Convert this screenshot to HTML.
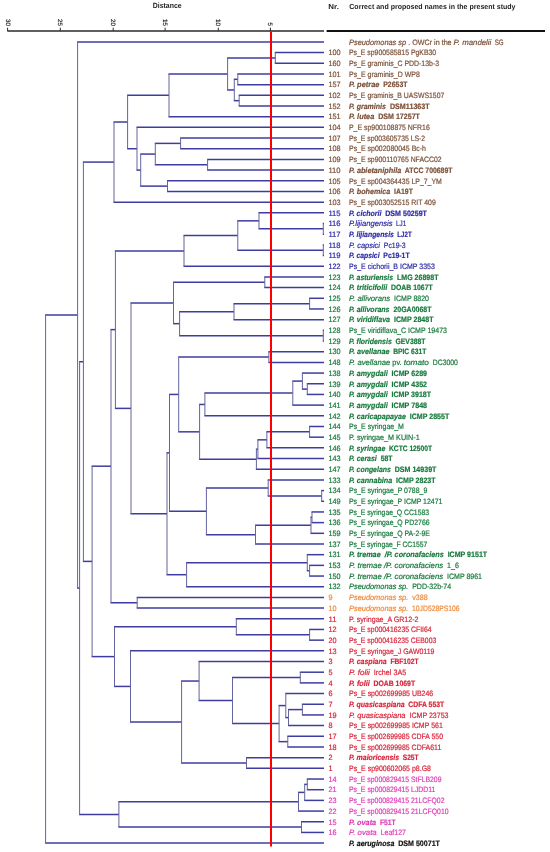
<!DOCTYPE html><html><head><meta charset="utf-8"><style>html,body{margin:0;padding:0;background:#fff;}svg{display:block}text{font-family:"Liberation Sans",Arial,sans-serif;white-space:pre;text-rendering:geometricPrecision}</style></head><body>
<svg width="550" height="852" viewBox="0 0 550 852">
<text x="167.2" y="8.3" font-size="7.6" font-weight="bold" fill="#222" text-anchor="middle" textLength="28.8" lengthAdjust="spacingAndGlyphs">Distance</text>
<line x1="7.3" y1="31" x2="324" y2="31" stroke="#2a2a2a" stroke-width="1.5"/>
<line x1="7.6" y1="27.7" x2="7.6" y2="31" stroke="#2a2a2a" stroke-width="1"/>
<text transform="translate(5.50,26.0) rotate(90)" font-size="6.3" fill="#1a1a1a" stroke="#1a1a1a" stroke-width="0.15" text-anchor="end" textLength="7.00" lengthAdjust="spacingAndGlyphs">30</text>
<line x1="60.3" y1="27.7" x2="60.3" y2="31" stroke="#2a2a2a" stroke-width="1"/>
<text transform="translate(58.20,26.0) rotate(90)" font-size="6.3" fill="#1a1a1a" stroke="#1a1a1a" stroke-width="0.15" text-anchor="end" textLength="7.00" lengthAdjust="spacingAndGlyphs">25</text>
<line x1="113.2" y1="27.7" x2="113.2" y2="31" stroke="#2a2a2a" stroke-width="1"/>
<text transform="translate(111.10,26.0) rotate(90)" font-size="6.3" fill="#1a1a1a" stroke="#1a1a1a" stroke-width="0.15" text-anchor="end" textLength="7.00" lengthAdjust="spacingAndGlyphs">20</text>
<line x1="165.1" y1="27.7" x2="165.1" y2="31" stroke="#2a2a2a" stroke-width="1"/>
<text transform="translate(163.00,26.0) rotate(90)" font-size="6.3" fill="#1a1a1a" stroke="#1a1a1a" stroke-width="0.15" text-anchor="end" textLength="7.00" lengthAdjust="spacingAndGlyphs">15</text>
<line x1="218.3" y1="27.7" x2="218.3" y2="31" stroke="#2a2a2a" stroke-width="1"/>
<text transform="translate(216.20,26.0) rotate(90)" font-size="6.3" fill="#1a1a1a" stroke="#1a1a1a" stroke-width="0.15" text-anchor="end" textLength="7.00" lengthAdjust="spacingAndGlyphs">10</text>
<line x1="270.4" y1="27.7" x2="270.4" y2="31" stroke="#2a2a2a" stroke-width="1"/>
<text transform="translate(268.30,26.0) rotate(90)" font-size="6.3" fill="#1a1a1a" stroke="#1a1a1a" stroke-width="0.15" text-anchor="end" textLength="3.50" lengthAdjust="spacingAndGlyphs">5</text>
<line x1="326.6" y1="31" x2="545" y2="31" stroke="#111" stroke-width="2"/>
<text x="328.3" y="8.9" font-size="7.3" font-weight="bold" fill="#222" textLength="10.53" lengthAdjust="spacingAndGlyphs">Nr.</text>
<text x="349.3" y="8.9" font-size="7.3" font-weight="bold" fill="#222" textLength="166.2" lengthAdjust="spacingAndGlyphs">Correct and proposed names in the present study</text>
<g stroke="#3e3ca0" fill="none">
<line x1="274.80" y1="52.58" x2="324.00" y2="52.58" stroke-width="1.5"/>
<line x1="274.80" y1="63.27" x2="324.00" y2="63.27" stroke-width="1.5"/>
<line x1="237.30" y1="73.95" x2="324.00" y2="73.95" stroke-width="1.5"/>
<line x1="237.30" y1="84.63" x2="324.00" y2="84.63" stroke-width="1.5"/>
<line x1="238.70" y1="95.31" x2="324.00" y2="95.31" stroke-width="1.5"/>
<line x1="238.70" y1="106.00" x2="324.00" y2="106.00" stroke-width="1.5"/>
<line x1="233.80" y1="79.29" x2="237.80" y2="79.29" stroke-width="1.5"/>
<line x1="233.80" y1="100.66" x2="239.20" y2="100.66" stroke-width="1.5"/>
<line x1="227.10" y1="57.92" x2="275.30" y2="57.92" stroke-width="1.5"/>
<line x1="227.10" y1="89.97" x2="234.30" y2="89.97" stroke-width="1.5"/>
<line x1="168.50" y1="73.95" x2="227.60" y2="73.95" stroke-width="1.5"/>
<line x1="168.50" y1="116.68" x2="324.00" y2="116.68" stroke-width="1.5"/>
<line x1="180.10" y1="138.05" x2="324.00" y2="138.05" stroke-width="1.5"/>
<line x1="180.10" y1="148.73" x2="324.00" y2="148.73" stroke-width="1.5"/>
<line x1="207.10" y1="159.41" x2="324.00" y2="159.41" stroke-width="1.5"/>
<line x1="207.10" y1="170.10" x2="324.00" y2="170.10" stroke-width="1.5"/>
<line x1="154.80" y1="143.39" x2="180.60" y2="143.39" stroke-width="1.5"/>
<line x1="154.80" y1="164.75" x2="207.60" y2="164.75" stroke-width="1.5"/>
<line x1="167.00" y1="180.78" x2="324.00" y2="180.78" stroke-width="1.5"/>
<line x1="167.00" y1="191.46" x2="324.00" y2="191.46" stroke-width="1.5"/>
<line x1="140.20" y1="154.07" x2="155.30" y2="154.07" stroke-width="1.5"/>
<line x1="140.20" y1="186.12" x2="167.50" y2="186.12" stroke-width="1.5"/>
<line x1="136.50" y1="127.36" x2="324.00" y2="127.36" stroke-width="1.5"/>
<line x1="136.50" y1="170.10" x2="140.70" y2="170.10" stroke-width="1.5"/>
<line x1="127.10" y1="95.31" x2="169.00" y2="95.31" stroke-width="1.5"/>
<line x1="127.10" y1="148.73" x2="137.00" y2="148.73" stroke-width="1.5"/>
<line x1="113.50" y1="122.02" x2="127.60" y2="122.02" stroke-width="1.5"/>
<line x1="113.50" y1="202.15" x2="324.00" y2="202.15" stroke-width="1.5"/>
<line x1="322.80" y1="223.51" x2="324.00" y2="223.51" stroke-width="1.5"/>
<line x1="322.80" y1="234.19" x2="324.00" y2="234.19" stroke-width="1.5"/>
<line x1="258.50" y1="212.83" x2="324.00" y2="212.83" stroke-width="1.5"/>
<line x1="258.50" y1="228.85" x2="323.30" y2="228.85" stroke-width="1.5"/>
<line x1="322.80" y1="244.88" x2="324.00" y2="244.88" stroke-width="1.5"/>
<line x1="322.80" y1="255.56" x2="324.00" y2="255.56" stroke-width="1.5"/>
<line x1="237.30" y1="220.84" x2="259.00" y2="220.84" stroke-width="1.5"/>
<line x1="237.30" y1="250.22" x2="323.30" y2="250.22" stroke-width="1.5"/>
<line x1="183.50" y1="235.53" x2="237.80" y2="235.53" stroke-width="1.5"/>
<line x1="183.50" y1="266.24" x2="324.00" y2="266.24" stroke-width="1.5"/>
<line x1="264.30" y1="276.93" x2="324.00" y2="276.93" stroke-width="1.5"/>
<line x1="264.30" y1="287.61" x2="324.00" y2="287.61" stroke-width="1.5"/>
<line x1="309.10" y1="298.29" x2="324.00" y2="298.29" stroke-width="1.5"/>
<line x1="309.10" y1="308.97" x2="324.00" y2="308.97" stroke-width="1.5"/>
<line x1="233.50" y1="303.63" x2="309.60" y2="303.63" stroke-width="1.5"/>
<line x1="233.50" y1="319.66" x2="324.00" y2="319.66" stroke-width="1.5"/>
<line x1="322.80" y1="330.34" x2="324.00" y2="330.34" stroke-width="1.5"/>
<line x1="322.80" y1="341.02" x2="324.00" y2="341.02" stroke-width="1.5"/>
<line x1="179.10" y1="311.65" x2="234.00" y2="311.65" stroke-width="1.5"/>
<line x1="179.10" y1="335.68" x2="323.30" y2="335.68" stroke-width="1.5"/>
<line x1="173.00" y1="282.27" x2="264.80" y2="282.27" stroke-width="1.5"/>
<line x1="173.00" y1="323.66" x2="179.60" y2="323.66" stroke-width="1.5"/>
<line x1="268.40" y1="351.71" x2="324.00" y2="351.71" stroke-width="1.5"/>
<line x1="268.40" y1="362.39" x2="324.00" y2="362.39" stroke-width="1.5"/>
<line x1="306.80" y1="383.76" x2="324.00" y2="383.76" stroke-width="1.5"/>
<line x1="306.80" y1="394.44" x2="324.00" y2="394.44" stroke-width="1.5"/>
<line x1="301.90" y1="373.07" x2="324.00" y2="373.07" stroke-width="1.5"/>
<line x1="301.90" y1="389.10" x2="307.30" y2="389.10" stroke-width="1.5"/>
<line x1="292.30" y1="381.09" x2="302.40" y2="381.09" stroke-width="1.5"/>
<line x1="292.30" y1="405.12" x2="324.00" y2="405.12" stroke-width="1.5"/>
<line x1="204.40" y1="393.10" x2="292.80" y2="393.10" stroke-width="1.5"/>
<line x1="204.40" y1="415.80" x2="324.00" y2="415.80" stroke-width="1.5"/>
<line x1="309.10" y1="426.49" x2="324.00" y2="426.49" stroke-width="1.5"/>
<line x1="309.10" y1="437.17" x2="324.00" y2="437.17" stroke-width="1.5"/>
<line x1="266.40" y1="431.83" x2="309.60" y2="431.83" stroke-width="1.5"/>
<line x1="266.40" y1="447.85" x2="324.00" y2="447.85" stroke-width="1.5"/>
<line x1="257.40" y1="439.84" x2="266.90" y2="439.84" stroke-width="1.5"/>
<line x1="257.40" y1="458.54" x2="324.00" y2="458.54" stroke-width="1.5"/>
<line x1="255.90" y1="449.19" x2="257.90" y2="449.19" stroke-width="1.5"/>
<line x1="255.90" y1="469.22" x2="324.00" y2="469.22" stroke-width="1.5"/>
<line x1="199.10" y1="404.45" x2="204.90" y2="404.45" stroke-width="1.5"/>
<line x1="199.10" y1="459.20" x2="256.40" y2="459.20" stroke-width="1.5"/>
<line x1="178.20" y1="357.05" x2="268.90" y2="357.05" stroke-width="1.5"/>
<line x1="178.20" y1="431.83" x2="199.60" y2="431.83" stroke-width="1.5"/>
<line x1="321.20" y1="490.59" x2="324.00" y2="490.59" stroke-width="1.5"/>
<line x1="321.20" y1="501.27" x2="324.00" y2="501.27" stroke-width="1.5"/>
<line x1="267.70" y1="479.90" x2="324.00" y2="479.90" stroke-width="1.5"/>
<line x1="267.70" y1="495.93" x2="321.70" y2="495.93" stroke-width="1.5"/>
<line x1="311.50" y1="511.95" x2="324.00" y2="511.95" stroke-width="1.5"/>
<line x1="311.50" y1="522.63" x2="324.00" y2="522.63" stroke-width="1.5"/>
<line x1="310.50" y1="517.29" x2="312.00" y2="517.29" stroke-width="1.5"/>
<line x1="310.50" y1="533.32" x2="324.00" y2="533.32" stroke-width="1.5"/>
<line x1="255.00" y1="525.31" x2="311.00" y2="525.31" stroke-width="1.5"/>
<line x1="255.00" y1="544.00" x2="324.00" y2="544.00" stroke-width="1.5"/>
<line x1="205.90" y1="487.92" x2="268.20" y2="487.92" stroke-width="1.5"/>
<line x1="205.90" y1="534.65" x2="255.50" y2="534.65" stroke-width="1.5"/>
<line x1="169.00" y1="394.44" x2="178.70" y2="394.44" stroke-width="1.5"/>
<line x1="169.00" y1="511.28" x2="206.40" y2="511.28" stroke-width="1.5"/>
<line x1="309.10" y1="565.37" x2="324.00" y2="565.37" stroke-width="1.5"/>
<line x1="309.10" y1="576.05" x2="324.00" y2="576.05" stroke-width="1.5"/>
<line x1="306.80" y1="554.68" x2="324.00" y2="554.68" stroke-width="1.5"/>
<line x1="306.80" y1="570.71" x2="309.60" y2="570.71" stroke-width="1.5"/>
<line x1="186.10" y1="562.70" x2="307.30" y2="562.70" stroke-width="1.5"/>
<line x1="186.10" y1="586.73" x2="324.00" y2="586.73" stroke-width="1.5"/>
<line x1="166.50" y1="452.86" x2="169.50" y2="452.86" stroke-width="1.5"/>
<line x1="166.50" y1="574.71" x2="186.60" y2="574.71" stroke-width="1.5"/>
<line x1="130.50" y1="302.97" x2="173.50" y2="302.97" stroke-width="1.5"/>
<line x1="130.50" y1="513.79" x2="167.00" y2="513.79" stroke-width="1.5"/>
<line x1="114.90" y1="250.89" x2="184.00" y2="250.89" stroke-width="1.5"/>
<line x1="114.90" y1="408.38" x2="131.00" y2="408.38" stroke-width="1.5"/>
<line x1="136.70" y1="597.42" x2="324.00" y2="597.42" stroke-width="1.5"/>
<line x1="136.70" y1="608.10" x2="324.00" y2="608.10" stroke-width="1.5"/>
<line x1="110.50" y1="329.63" x2="115.40" y2="329.63" stroke-width="1.5"/>
<line x1="110.50" y1="602.76" x2="137.20" y2="602.76" stroke-width="1.5"/>
<line x1="309.10" y1="629.46" x2="324.00" y2="629.46" stroke-width="1.5"/>
<line x1="309.10" y1="640.15" x2="324.00" y2="640.15" stroke-width="1.5"/>
<line x1="235.80" y1="618.78" x2="324.00" y2="618.78" stroke-width="1.5"/>
<line x1="235.80" y1="634.81" x2="309.60" y2="634.81" stroke-width="1.5"/>
<line x1="299.80" y1="672.20" x2="324.00" y2="672.20" stroke-width="1.5"/>
<line x1="299.80" y1="682.88" x2="324.00" y2="682.88" stroke-width="1.5"/>
<line x1="301.90" y1="704.25" x2="324.00" y2="704.25" stroke-width="1.5"/>
<line x1="301.90" y1="714.93" x2="324.00" y2="714.93" stroke-width="1.5"/>
<line x1="288.00" y1="709.59" x2="302.40" y2="709.59" stroke-width="1.5"/>
<line x1="288.00" y1="725.61" x2="324.00" y2="725.61" stroke-width="1.5"/>
<line x1="285.30" y1="693.56" x2="324.00" y2="693.56" stroke-width="1.5"/>
<line x1="285.30" y1="717.60" x2="288.50" y2="717.60" stroke-width="1.5"/>
<line x1="287.30" y1="736.29" x2="324.00" y2="736.29" stroke-width="1.5"/>
<line x1="287.30" y1="746.98" x2="324.00" y2="746.98" stroke-width="1.5"/>
<line x1="278.60" y1="705.58" x2="285.80" y2="705.58" stroke-width="1.5"/>
<line x1="278.60" y1="741.64" x2="287.80" y2="741.64" stroke-width="1.5"/>
<line x1="232.00" y1="677.54" x2="300.30" y2="677.54" stroke-width="1.5"/>
<line x1="232.00" y1="723.61" x2="279.10" y2="723.61" stroke-width="1.5"/>
<line x1="198.60" y1="661.51" x2="324.00" y2="661.51" stroke-width="1.5"/>
<line x1="198.60" y1="700.57" x2="232.50" y2="700.57" stroke-width="1.5"/>
<line x1="246.00" y1="757.66" x2="324.00" y2="757.66" stroke-width="1.5"/>
<line x1="246.00" y1="768.34" x2="324.00" y2="768.34" stroke-width="1.5"/>
<line x1="181.10" y1="681.04" x2="199.10" y2="681.04" stroke-width="1.5"/>
<line x1="181.10" y1="763.00" x2="246.50" y2="763.00" stroke-width="1.5"/>
<line x1="130.00" y1="650.83" x2="324.00" y2="650.83" stroke-width="1.5"/>
<line x1="130.00" y1="722.02" x2="181.60" y2="722.02" stroke-width="1.5"/>
<line x1="114.00" y1="626.79" x2="236.30" y2="626.79" stroke-width="1.5"/>
<line x1="114.00" y1="686.43" x2="130.50" y2="686.43" stroke-width="1.5"/>
<line x1="91.60" y1="466.19" x2="111.00" y2="466.19" stroke-width="1.5"/>
<line x1="91.60" y1="656.61" x2="114.50" y2="656.61" stroke-width="1.5"/>
<line x1="82.90" y1="162.08" x2="114.00" y2="162.08" stroke-width="1.5"/>
<line x1="82.90" y1="561.40" x2="92.10" y2="561.40" stroke-width="1.5"/>
<line x1="306.80" y1="779.03" x2="324.00" y2="779.03" stroke-width="1.5"/>
<line x1="306.80" y1="789.71" x2="324.00" y2="789.71" stroke-width="1.5"/>
<line x1="304.20" y1="784.37" x2="307.30" y2="784.37" stroke-width="1.5"/>
<line x1="304.20" y1="800.39" x2="324.00" y2="800.39" stroke-width="1.5"/>
<line x1="298.00" y1="792.38" x2="304.70" y2="792.38" stroke-width="1.5"/>
<line x1="298.00" y1="811.08" x2="324.00" y2="811.08" stroke-width="1.5"/>
<line x1="301.00" y1="821.76" x2="324.00" y2="821.76" stroke-width="1.5"/>
<line x1="301.00" y1="832.44" x2="324.00" y2="832.44" stroke-width="1.5"/>
<line x1="118.40" y1="801.73" x2="298.50" y2="801.73" stroke-width="1.5"/>
<line x1="118.40" y1="827.10" x2="301.50" y2="827.10" stroke-width="1.5"/>
<line x1="79.10" y1="361.74" x2="83.40" y2="361.74" stroke-width="1.5"/>
<line x1="79.10" y1="814.41" x2="118.90" y2="814.41" stroke-width="1.5"/>
<line x1="77.10" y1="41.90" x2="324.00" y2="41.90" stroke-width="1.5"/>
<line x1="77.10" y1="588.08" x2="79.60" y2="588.08" stroke-width="1.5"/>
<line x1="45.10" y1="314.99" x2="77.60" y2="314.99" stroke-width="1.5"/>
<line x1="45.10" y1="843.12" x2="324.00" y2="843.12" stroke-width="1.5"/>
<line x1="275.30" y1="52.58" x2="275.30" y2="63.27" stroke-width="1" stroke="#64649e"/>
<line x1="237.80" y1="73.95" x2="237.80" y2="84.63" stroke-width="1" stroke="#64649e"/>
<line x1="239.20" y1="95.31" x2="239.20" y2="106.00" stroke-width="1" stroke="#64649e"/>
<line x1="234.30" y1="79.29" x2="234.30" y2="100.66" stroke-width="1" stroke="#64649e"/>
<line x1="227.60" y1="57.92" x2="227.60" y2="89.97" stroke-width="1" stroke="#64649e"/>
<line x1="169.00" y1="73.95" x2="169.00" y2="116.68" stroke-width="1" stroke="#64649e"/>
<line x1="180.60" y1="138.05" x2="180.60" y2="148.73" stroke-width="1" stroke="#64649e"/>
<line x1="207.60" y1="159.41" x2="207.60" y2="170.10" stroke-width="1" stroke="#64649e"/>
<line x1="155.30" y1="143.39" x2="155.30" y2="164.75" stroke-width="1" stroke="#64649e"/>
<line x1="167.50" y1="180.78" x2="167.50" y2="191.46" stroke-width="1" stroke="#64649e"/>
<line x1="140.70" y1="154.07" x2="140.70" y2="186.12" stroke-width="1" stroke="#64649e"/>
<line x1="137.00" y1="127.36" x2="137.00" y2="170.10" stroke-width="1" stroke="#64649e"/>
<line x1="127.60" y1="95.31" x2="127.60" y2="148.73" stroke-width="1" stroke="#64649e"/>
<line x1="114.00" y1="122.02" x2="114.00" y2="202.15" stroke-width="1" stroke="#64649e"/>
<line x1="323.30" y1="223.51" x2="323.30" y2="234.19" stroke-width="1" stroke="#64649e"/>
<line x1="259.00" y1="212.83" x2="259.00" y2="228.85" stroke-width="1" stroke="#64649e"/>
<line x1="323.30" y1="244.88" x2="323.30" y2="255.56" stroke-width="1" stroke="#64649e"/>
<line x1="237.80" y1="220.84" x2="237.80" y2="250.22" stroke-width="1" stroke="#64649e"/>
<line x1="184.00" y1="235.53" x2="184.00" y2="266.24" stroke-width="1" stroke="#64649e"/>
<line x1="264.80" y1="276.93" x2="264.80" y2="287.61" stroke-width="1" stroke="#64649e"/>
<line x1="309.60" y1="298.29" x2="309.60" y2="308.97" stroke-width="1" stroke="#64649e"/>
<line x1="234.00" y1="303.63" x2="234.00" y2="319.66" stroke-width="1" stroke="#64649e"/>
<line x1="323.30" y1="330.34" x2="323.30" y2="341.02" stroke-width="1" stroke="#64649e"/>
<line x1="179.60" y1="311.65" x2="179.60" y2="335.68" stroke-width="1" stroke="#64649e"/>
<line x1="173.50" y1="282.27" x2="173.50" y2="323.66" stroke-width="1" stroke="#64649e"/>
<line x1="268.90" y1="351.71" x2="268.90" y2="362.39" stroke-width="1" stroke="#64649e"/>
<line x1="307.30" y1="383.76" x2="307.30" y2="394.44" stroke-width="1" stroke="#64649e"/>
<line x1="302.40" y1="373.07" x2="302.40" y2="389.10" stroke-width="1" stroke="#64649e"/>
<line x1="292.80" y1="381.09" x2="292.80" y2="405.12" stroke-width="1" stroke="#64649e"/>
<line x1="204.90" y1="393.10" x2="204.90" y2="415.80" stroke-width="1" stroke="#64649e"/>
<line x1="309.60" y1="426.49" x2="309.60" y2="437.17" stroke-width="1" stroke="#64649e"/>
<line x1="266.90" y1="431.83" x2="266.90" y2="447.85" stroke-width="1" stroke="#64649e"/>
<line x1="257.90" y1="439.84" x2="257.90" y2="458.54" stroke-width="1" stroke="#64649e"/>
<line x1="256.40" y1="449.19" x2="256.40" y2="469.22" stroke-width="1" stroke="#64649e"/>
<line x1="199.60" y1="404.45" x2="199.60" y2="459.20" stroke-width="1" stroke="#64649e"/>
<line x1="178.70" y1="357.05" x2="178.70" y2="431.83" stroke-width="1" stroke="#64649e"/>
<line x1="321.70" y1="490.59" x2="321.70" y2="501.27" stroke-width="1" stroke="#64649e"/>
<line x1="268.20" y1="479.90" x2="268.20" y2="495.93" stroke-width="1" stroke="#64649e"/>
<line x1="312.00" y1="511.95" x2="312.00" y2="522.63" stroke-width="1" stroke="#64649e"/>
<line x1="311.00" y1="517.29" x2="311.00" y2="533.32" stroke-width="1" stroke="#64649e"/>
<line x1="255.50" y1="525.31" x2="255.50" y2="544.00" stroke-width="1" stroke="#64649e"/>
<line x1="206.40" y1="487.92" x2="206.40" y2="534.65" stroke-width="1" stroke="#64649e"/>
<line x1="169.50" y1="394.44" x2="169.50" y2="511.28" stroke-width="1" stroke="#64649e"/>
<line x1="309.60" y1="565.37" x2="309.60" y2="576.05" stroke-width="1" stroke="#64649e"/>
<line x1="307.30" y1="554.68" x2="307.30" y2="570.71" stroke-width="1" stroke="#64649e"/>
<line x1="186.60" y1="562.70" x2="186.60" y2="586.73" stroke-width="1" stroke="#64649e"/>
<line x1="167.00" y1="452.86" x2="167.00" y2="574.71" stroke-width="1" stroke="#64649e"/>
<line x1="131.00" y1="302.97" x2="131.00" y2="513.79" stroke-width="1" stroke="#64649e"/>
<line x1="115.40" y1="250.89" x2="115.40" y2="408.38" stroke-width="1" stroke="#64649e"/>
<line x1="137.20" y1="597.42" x2="137.20" y2="608.10" stroke-width="1" stroke="#64649e"/>
<line x1="111.00" y1="329.63" x2="111.00" y2="602.76" stroke-width="1" stroke="#64649e"/>
<line x1="309.60" y1="629.46" x2="309.60" y2="640.15" stroke-width="1" stroke="#64649e"/>
<line x1="236.30" y1="618.78" x2="236.30" y2="634.81" stroke-width="1" stroke="#64649e"/>
<line x1="300.30" y1="672.20" x2="300.30" y2="682.88" stroke-width="1" stroke="#64649e"/>
<line x1="302.40" y1="704.25" x2="302.40" y2="714.93" stroke-width="1" stroke="#64649e"/>
<line x1="288.50" y1="709.59" x2="288.50" y2="725.61" stroke-width="1" stroke="#64649e"/>
<line x1="285.80" y1="693.56" x2="285.80" y2="717.60" stroke-width="1" stroke="#64649e"/>
<line x1="287.80" y1="736.29" x2="287.80" y2="746.98" stroke-width="1" stroke="#64649e"/>
<line x1="279.10" y1="705.58" x2="279.10" y2="741.64" stroke-width="1" stroke="#64649e"/>
<line x1="232.50" y1="677.54" x2="232.50" y2="723.61" stroke-width="1" stroke="#64649e"/>
<line x1="199.10" y1="661.51" x2="199.10" y2="700.57" stroke-width="1" stroke="#64649e"/>
<line x1="246.50" y1="757.66" x2="246.50" y2="768.34" stroke-width="1" stroke="#64649e"/>
<line x1="181.60" y1="681.04" x2="181.60" y2="763.00" stroke-width="1" stroke="#64649e"/>
<line x1="130.50" y1="650.83" x2="130.50" y2="722.02" stroke-width="1" stroke="#64649e"/>
<line x1="114.50" y1="626.79" x2="114.50" y2="686.43" stroke-width="1" stroke="#64649e"/>
<line x1="92.10" y1="466.19" x2="92.10" y2="656.61" stroke-width="1" stroke="#64649e"/>
<line x1="83.40" y1="162.08" x2="83.40" y2="561.40" stroke-width="1" stroke="#64649e"/>
<line x1="307.30" y1="779.03" x2="307.30" y2="789.71" stroke-width="1" stroke="#64649e"/>
<line x1="304.70" y1="784.37" x2="304.70" y2="800.39" stroke-width="1" stroke="#64649e"/>
<line x1="298.50" y1="792.38" x2="298.50" y2="811.08" stroke-width="1" stroke="#64649e"/>
<line x1="301.50" y1="821.76" x2="301.50" y2="832.44" stroke-width="1" stroke="#64649e"/>
<line x1="118.90" y1="801.73" x2="118.90" y2="827.10" stroke-width="1" stroke="#64649e"/>
<line x1="79.60" y1="361.74" x2="79.60" y2="814.41" stroke-width="1" stroke="#64649e"/>
<line x1="77.60" y1="41.90" x2="77.60" y2="588.08" stroke-width="1" stroke="#64649e"/>
<line x1="45.60" y1="314.99" x2="45.60" y2="843.12" stroke-width="1" stroke="#64649e"/>
</g>
<line x1="271" y1="31.5" x2="271" y2="846.5" stroke="#ff0000" stroke-width="2"/>
<text y="44.65" font-size="7.8" fill="#7b5038" stroke="#7b5038" stroke-width="0.2"><tspan x="349.00" textLength="57.18" lengthAdjust="spacingAndGlyphs" font-style="italic">Pseudomonas sp</tspan><tspan x="406.18" textLength="47.43" lengthAdjust="spacingAndGlyphs"> . OWCr in the </tspan><tspan x="453.61" textLength="37.73" lengthAdjust="spacingAndGlyphs" font-style="italic">P. mandelii</tspan><tspan x="491.34" textLength="12.34" lengthAdjust="spacingAndGlyphs">  SG</tspan></text>
<text x="328.4" y="55.33" font-size="7.8" fill="#7b5038" stroke="#7b5038" stroke-width="0.2" textLength="12.16" lengthAdjust="spacingAndGlyphs">100</text>
<text y="55.33" font-size="7.8" fill="#7b5038" stroke="#7b5038" stroke-width="0.2"><tspan x="349.00" textLength="87.11" lengthAdjust="spacingAndGlyphs">Ps_E sp900585815 PgKB30</tspan></text>
<text x="328.4" y="66.02" font-size="7.8" fill="#7b5038" stroke="#7b5038" stroke-width="0.2" textLength="12.16" lengthAdjust="spacingAndGlyphs">160</text>
<text y="66.02" font-size="7.8" fill="#7b5038" stroke="#7b5038" stroke-width="0.2"><tspan x="349.00" textLength="90.04" lengthAdjust="spacingAndGlyphs">Ps_E graminis_C PDD-13b-3</tspan></text>
<text x="328.4" y="76.70" font-size="7.8" fill="#7b5038" stroke="#7b5038" stroke-width="0.2" textLength="12.16" lengthAdjust="spacingAndGlyphs">101</text>
<text y="76.70" font-size="7.8" fill="#7b5038" stroke="#7b5038" stroke-width="0.2"><tspan x="349.00" textLength="70.76" lengthAdjust="spacingAndGlyphs">Ps_E graminis_D WP8</tspan></text>
<text x="328.4" y="87.38" font-size="7.8" fill="#7b5038" stroke="#7b5038" stroke-width="0.2" textLength="12.16" lengthAdjust="spacingAndGlyphs">157</text>
<text y="87.38" font-size="7.8" fill="#7b5038" stroke="#7b5038" stroke-width="0.2"><tspan x="349.00" textLength="30.40" lengthAdjust="spacingAndGlyphs" font-weight="bold" font-style="italic">P. petrae</tspan><tspan x="379.40" textLength="28.11" lengthAdjust="spacingAndGlyphs" font-weight="bold">  P2653T</tspan></text>
<text x="328.4" y="98.06" font-size="7.8" fill="#7b5038" stroke="#7b5038" stroke-width="0.2" textLength="12.16" lengthAdjust="spacingAndGlyphs">102</text>
<text y="98.06" font-size="7.8" fill="#7b5038" stroke="#7b5038" stroke-width="0.2"><tspan x="349.00" textLength="95.34" lengthAdjust="spacingAndGlyphs">Ps_E graminis_B UASWS1507</tspan></text>
<text x="328.4" y="108.75" font-size="7.8" fill="#7b5038" stroke="#7b5038" stroke-width="0.2" textLength="12.16" lengthAdjust="spacingAndGlyphs">152</text>
<text y="108.75" font-size="7.8" fill="#7b5038" stroke="#7b5038" stroke-width="0.2"><tspan x="349.00" textLength="36.91" lengthAdjust="spacingAndGlyphs" font-weight="bold" font-style="italic">P. graminis</tspan><tspan x="385.91" textLength="43.81" lengthAdjust="spacingAndGlyphs" font-weight="bold">  DSM11363T</tspan></text>
<text x="328.4" y="119.43" font-size="7.8" fill="#7b5038" stroke="#7b5038" stroke-width="0.2" textLength="12.16" lengthAdjust="spacingAndGlyphs">151</text>
<text y="119.43" font-size="7.8" fill="#7b5038" stroke="#7b5038" stroke-width="0.2"><tspan x="349.00" textLength="25.32" lengthAdjust="spacingAndGlyphs" font-weight="bold" font-style="italic">P. lutea</tspan><tspan x="374.32" textLength="45.62" lengthAdjust="spacingAndGlyphs" font-weight="bold">  DSM 17257T</tspan></text>
<text x="328.4" y="130.11" font-size="7.8" fill="#7b5038" stroke="#7b5038" stroke-width="0.2" textLength="12.16" lengthAdjust="spacingAndGlyphs">104</text>
<text y="130.11" font-size="7.8" fill="#7b5038" stroke="#7b5038" stroke-width="0.2"><tspan x="349.00" textLength="80.76" lengthAdjust="spacingAndGlyphs">P_E sp900108875 NFR16</tspan></text>
<text x="328.4" y="140.80" font-size="7.8" fill="#7b5038" stroke="#7b5038" stroke-width="0.2" textLength="12.16" lengthAdjust="spacingAndGlyphs">107</text>
<text y="140.80" font-size="7.8" fill="#7b5038" stroke="#7b5038" stroke-width="0.2"><tspan x="349.00" textLength="76.14" lengthAdjust="spacingAndGlyphs">Ps_E sp003605735 LS-2</tspan></text>
<text x="328.4" y="151.48" font-size="7.8" fill="#7b5038" stroke="#7b5038" stroke-width="0.2" textLength="12.16" lengthAdjust="spacingAndGlyphs">108</text>
<text y="151.48" font-size="7.8" fill="#7b5038" stroke="#7b5038" stroke-width="0.2"><tspan x="349.00" textLength="76.98" lengthAdjust="spacingAndGlyphs">Ps_E sp002080045 Bc-h</tspan></text>
<text x="328.4" y="162.16" font-size="7.8" fill="#7b5038" stroke="#7b5038" stroke-width="0.2" textLength="12.16" lengthAdjust="spacingAndGlyphs">109</text>
<text y="162.16" font-size="7.8" fill="#7b5038" stroke="#7b5038" stroke-width="0.2"><tspan x="349.00" textLength="92.70" lengthAdjust="spacingAndGlyphs">Ps_E sp900110765 NFACC02</tspan></text>
<text x="328.4" y="172.85" font-size="7.8" fill="#7b5038" stroke="#7b5038" stroke-width="0.2" textLength="12.16" lengthAdjust="spacingAndGlyphs">110</text>
<text y="172.85" font-size="7.8" fill="#7b5038" stroke="#7b5038" stroke-width="0.2"><tspan x="349.00" textLength="52.18" lengthAdjust="spacingAndGlyphs" font-weight="bold" font-style="italic">P. abietaniphila</tspan><tspan x="401.18" textLength="51.34" lengthAdjust="spacingAndGlyphs" font-weight="bold">  ATCC 700689T</tspan></text>
<text x="328.4" y="183.53" font-size="7.8" fill="#7b5038" stroke="#7b5038" stroke-width="0.2" textLength="12.16" lengthAdjust="spacingAndGlyphs">105</text>
<text y="183.53" font-size="7.8" fill="#7b5038" stroke="#7b5038" stroke-width="0.2"><tspan x="349.00" textLength="92.85" lengthAdjust="spacingAndGlyphs">Ps_E sp004364435 LP_7_YM</tspan></text>
<text x="328.4" y="194.21" font-size="7.8" fill="#7b5038" stroke="#7b5038" stroke-width="0.2" textLength="12.16" lengthAdjust="spacingAndGlyphs">106</text>
<text y="194.21" font-size="7.8" fill="#7b5038" stroke="#7b5038" stroke-width="0.2"><tspan x="349.00" textLength="41.30" lengthAdjust="spacingAndGlyphs" font-weight="bold" font-style="italic">P. bohemica</tspan><tspan x="390.30" textLength="22.59" lengthAdjust="spacingAndGlyphs" font-weight="bold">  IA19T</tspan></text>
<text x="328.4" y="204.90" font-size="7.8" fill="#7b5038" stroke="#7b5038" stroke-width="0.2" textLength="12.16" lengthAdjust="spacingAndGlyphs">103</text>
<text y="204.90" font-size="7.8" fill="#7b5038" stroke="#7b5038" stroke-width="0.2"><tspan x="349.00" textLength="86.82" lengthAdjust="spacingAndGlyphs">Ps_E sp003052515 RIT 409</tspan></text>
<text x="328.4" y="215.58" font-size="7.8" fill="#2e2ba6" stroke="#2e2ba6" stroke-width="0.2" textLength="12.16" lengthAdjust="spacingAndGlyphs">115</text>
<text y="215.58" font-size="7.8" fill="#2e2ba6" stroke="#2e2ba6" stroke-width="0.2"><tspan x="349.00" textLength="32.33" lengthAdjust="spacingAndGlyphs" font-weight="bold" font-style="italic">P. cichorii</tspan><tspan x="381.33" textLength="45.62" lengthAdjust="spacingAndGlyphs" font-weight="bold">  DSM 50259T</tspan></text>
<text x="328.4" y="226.26" font-size="7.8" fill="#2e2ba6" stroke="#2e2ba6" stroke-width="0.2" textLength="12.16" lengthAdjust="spacingAndGlyphs">116</text>
<text y="226.26" font-size="7.8" fill="#2e2ba6" stroke="#2e2ba6" stroke-width="0.2"><tspan x="349.00" textLength="43.59" lengthAdjust="spacingAndGlyphs" font-style="italic">P.lijiangensis</tspan><tspan x="392.59" textLength="13.59" lengthAdjust="spacingAndGlyphs">  LJ1</tspan></text>
<text x="328.4" y="236.94" font-size="7.8" fill="#2e2ba6" stroke="#2e2ba6" stroke-width="0.2" textLength="12.16" lengthAdjust="spacingAndGlyphs">117</text>
<text y="236.94" font-size="7.8" fill="#2e2ba6" stroke="#2e2ba6" stroke-width="0.2"><tspan x="349.00" textLength="44.86" lengthAdjust="spacingAndGlyphs" font-weight="bold" font-style="italic">P. lijiangensis</tspan><tspan x="393.86" textLength="17.78" lengthAdjust="spacingAndGlyphs" font-weight="bold">  LJ2T</tspan></text>
<text x="328.4" y="247.63" font-size="7.8" fill="#2e2ba6" stroke="#2e2ba6" stroke-width="0.2" textLength="12.16" lengthAdjust="spacingAndGlyphs">118</text>
<text y="247.63" font-size="7.8" fill="#2e2ba6" stroke="#2e2ba6" stroke-width="0.2"><tspan x="349.00" textLength="30.95" lengthAdjust="spacingAndGlyphs" font-style="italic">P. capsici</tspan><tspan x="379.95" textLength="25.75" lengthAdjust="spacingAndGlyphs">  Pc19-3</tspan></text>
<text x="328.4" y="258.31" font-size="7.8" fill="#2e2ba6" stroke="#2e2ba6" stroke-width="0.2" textLength="12.16" lengthAdjust="spacingAndGlyphs">119</text>
<text y="258.31" font-size="7.8" fill="#2e2ba6" stroke="#2e2ba6" stroke-width="0.2"><tspan x="349.00" textLength="30.55" lengthAdjust="spacingAndGlyphs" font-weight="bold" font-style="italic">P. capsici</tspan><tspan x="379.55" textLength="30.06" lengthAdjust="spacingAndGlyphs" font-weight="bold">  Pc19-1T</tspan></text>
<text x="328.4" y="268.99" font-size="7.8" fill="#2e2ba6" stroke="#2e2ba6" stroke-width="0.2" textLength="12.16" lengthAdjust="spacingAndGlyphs">122</text>
<text y="268.99" font-size="7.8" fill="#2e2ba6" stroke="#2e2ba6" stroke-width="0.2"><tspan x="349.00" textLength="85.87" lengthAdjust="spacingAndGlyphs">Ps_E cichorii_B ICMP 3353</tspan></text>
<text x="328.4" y="279.68" font-size="7.8" fill="#177a3c" stroke="#177a3c" stroke-width="0.2" textLength="12.16" lengthAdjust="spacingAndGlyphs">123</text>
<text y="279.68" font-size="7.8" fill="#177a3c" stroke="#177a3c" stroke-width="0.2"><tspan x="349.00" textLength="44.08" lengthAdjust="spacingAndGlyphs" font-weight="bold" font-style="italic">P. asturiensis</tspan><tspan x="393.08" textLength="45.42" lengthAdjust="spacingAndGlyphs" font-weight="bold">  LMG 26898T</tspan></text>
<text x="328.4" y="290.36" font-size="7.8" fill="#177a3c" stroke="#177a3c" stroke-width="0.2" textLength="12.16" lengthAdjust="spacingAndGlyphs">124</text>
<text y="290.36" font-size="7.8" fill="#177a3c" stroke="#177a3c" stroke-width="0.2"><tspan x="349.00" textLength="38.23" lengthAdjust="spacingAndGlyphs" font-weight="bold" font-style="italic">P. triticifolii</tspan><tspan x="387.23" textLength="45.44" lengthAdjust="spacingAndGlyphs" font-weight="bold">  DOAB 1067T</tspan></text>
<text x="328.4" y="301.04" font-size="7.8" fill="#177a3c" stroke="#177a3c" stroke-width="0.2" textLength="12.16" lengthAdjust="spacingAndGlyphs">125</text>
<text y="301.04" font-size="7.8" fill="#177a3c" stroke="#177a3c" stroke-width="0.2"><tspan x="349.00" textLength="41.13" lengthAdjust="spacingAndGlyphs" font-style="italic">P. allivorans</tspan><tspan x="390.13" textLength="38.90" lengthAdjust="spacingAndGlyphs">  ICMP 8820</tspan></text>
<text x="328.4" y="311.72" font-size="7.8" fill="#177a3c" stroke="#177a3c" stroke-width="0.2" textLength="12.16" lengthAdjust="spacingAndGlyphs">126</text>
<text y="311.72" font-size="7.8" fill="#177a3c" stroke="#177a3c" stroke-width="0.2"><tspan x="349.00" textLength="40.51" lengthAdjust="spacingAndGlyphs" font-weight="bold" font-style="italic">P. allivorans</tspan><tspan x="389.51" textLength="41.93" lengthAdjust="spacingAndGlyphs" font-weight="bold">  20GA0068T</tspan></text>
<text x="328.4" y="322.41" font-size="7.8" fill="#177a3c" stroke="#177a3c" stroke-width="0.2" textLength="12.16" lengthAdjust="spacingAndGlyphs">127</text>
<text y="322.41" font-size="7.8" fill="#177a3c" stroke="#177a3c" stroke-width="0.2"><tspan x="349.00" textLength="41.06" lengthAdjust="spacingAndGlyphs" font-weight="bold" font-style="italic">P. viridiflava</tspan><tspan x="390.06" textLength="43.43" lengthAdjust="spacingAndGlyphs" font-weight="bold">  ICMP 2848T</tspan></text>
<text x="328.4" y="333.09" font-size="7.8" fill="#177a3c" stroke="#177a3c" stroke-width="0.2" textLength="12.16" lengthAdjust="spacingAndGlyphs">128</text>
<text y="333.09" font-size="7.8" fill="#177a3c" stroke="#177a3c" stroke-width="0.2"><tspan x="349.00" textLength="98.02" lengthAdjust="spacingAndGlyphs">Ps_E viridiflava_C ICMP 19473</tspan></text>
<text x="328.4" y="343.77" font-size="7.8" fill="#177a3c" stroke="#177a3c" stroke-width="0.2" textLength="12.16" lengthAdjust="spacingAndGlyphs">129</text>
<text y="343.77" font-size="7.8" fill="#177a3c" stroke="#177a3c" stroke-width="0.2"><tspan x="349.00" textLength="42.76" lengthAdjust="spacingAndGlyphs" font-weight="bold" font-style="italic">P. floridensis</tspan><tspan x="391.76" textLength="33.69" lengthAdjust="spacingAndGlyphs" font-weight="bold">  GEV388T</tspan></text>
<text x="328.4" y="354.46" font-size="7.8" fill="#177a3c" stroke="#177a3c" stroke-width="0.2" textLength="12.16" lengthAdjust="spacingAndGlyphs">130</text>
<text y="354.46" font-size="7.8" fill="#177a3c" stroke="#177a3c" stroke-width="0.2"><tspan x="349.00" textLength="40.47" lengthAdjust="spacingAndGlyphs" font-weight="bold" font-style="italic">P. avellanae</tspan><tspan x="389.47" textLength="36.81" lengthAdjust="spacingAndGlyphs" font-weight="bold">  BPIC 631T</tspan></text>
<text x="328.4" y="365.14" font-size="7.8" fill="#177a3c" stroke="#177a3c" stroke-width="0.2" textLength="12.16" lengthAdjust="spacingAndGlyphs">148</text>
<text y="365.14" font-size="7.8" fill="#177a3c" stroke="#177a3c" stroke-width="0.2"><tspan x="349.00" textLength="41.22" lengthAdjust="spacingAndGlyphs" font-style="italic">P. avellanae</tspan><tspan x="390.22" textLength="13.45" lengthAdjust="spacingAndGlyphs"> pv. </tspan><tspan x="403.67" textLength="25.26" lengthAdjust="spacingAndGlyphs" font-style="italic">tomato</tspan><tspan x="428.93" textLength="29.02" lengthAdjust="spacingAndGlyphs">  DC3000</tspan></text>
<text x="328.4" y="375.82" font-size="7.8" fill="#177a3c" stroke="#177a3c" stroke-width="0.2" textLength="12.16" lengthAdjust="spacingAndGlyphs">138</text>
<text y="375.82" font-size="7.8" fill="#177a3c" stroke="#177a3c" stroke-width="0.2"><tspan x="349.00" textLength="38.64" lengthAdjust="spacingAndGlyphs" font-weight="bold" font-style="italic">P. amygdali</tspan><tspan x="387.64" textLength="39.42" lengthAdjust="spacingAndGlyphs" font-weight="bold">  ICMP 6289</tspan></text>
<text x="328.4" y="386.51" font-size="7.8" fill="#177a3c" stroke="#177a3c" stroke-width="0.2" textLength="12.16" lengthAdjust="spacingAndGlyphs">139</text>
<text y="386.51" font-size="7.8" fill="#177a3c" stroke="#177a3c" stroke-width="0.2"><tspan x="349.00" textLength="38.64" lengthAdjust="spacingAndGlyphs" font-weight="bold" font-style="italic">P. amygdali</tspan><tspan x="387.64" textLength="39.42" lengthAdjust="spacingAndGlyphs" font-weight="bold">  ICMP 4352</tspan></text>
<text x="328.4" y="397.19" font-size="7.8" fill="#177a3c" stroke="#177a3c" stroke-width="0.2" textLength="12.16" lengthAdjust="spacingAndGlyphs">140</text>
<text y="397.19" font-size="7.8" fill="#177a3c" stroke="#177a3c" stroke-width="0.2"><tspan x="349.00" textLength="38.64" lengthAdjust="spacingAndGlyphs" font-weight="bold" font-style="italic">P. amygdali</tspan><tspan x="387.64" textLength="43.43" lengthAdjust="spacingAndGlyphs" font-weight="bold">  ICMP 3918T</tspan></text>
<text x="328.4" y="407.87" font-size="7.8" fill="#177a3c" stroke="#177a3c" stroke-width="0.2" textLength="12.16" lengthAdjust="spacingAndGlyphs">141</text>
<text y="407.87" font-size="7.8" fill="#177a3c" stroke="#177a3c" stroke-width="0.2"><tspan x="349.00" textLength="38.64" lengthAdjust="spacingAndGlyphs" font-weight="bold" font-style="italic">P. amygdali</tspan><tspan x="387.64" textLength="39.42" lengthAdjust="spacingAndGlyphs" font-weight="bold">  ICMP 7848</tspan></text>
<text x="328.4" y="418.55" font-size="7.8" fill="#177a3c" stroke="#177a3c" stroke-width="0.2" textLength="12.16" lengthAdjust="spacingAndGlyphs">142</text>
<text y="418.55" font-size="7.8" fill="#177a3c" stroke="#177a3c" stroke-width="0.2"><tspan x="349.00" textLength="56.85" lengthAdjust="spacingAndGlyphs" font-weight="bold" font-style="italic">P. caricapapayae</tspan><tspan x="405.85" textLength="43.43" lengthAdjust="spacingAndGlyphs" font-weight="bold">  ICMP 2855T</tspan></text>
<text x="328.4" y="429.24" font-size="7.8" fill="#177a3c" stroke="#177a3c" stroke-width="0.2" textLength="12.16" lengthAdjust="spacingAndGlyphs">144</text>
<text y="429.24" font-size="7.8" fill="#177a3c" stroke="#177a3c" stroke-width="0.2"><tspan x="349.00" textLength="54.94" lengthAdjust="spacingAndGlyphs">Ps_E syringae_M</tspan></text>
<text x="328.4" y="439.92" font-size="7.8" fill="#177a3c" stroke="#177a3c" stroke-width="0.2" textLength="12.16" lengthAdjust="spacingAndGlyphs">145</text>
<text y="439.92" font-size="7.8" fill="#177a3c" stroke="#177a3c" stroke-width="0.2"><tspan x="349.00" textLength="70.72" lengthAdjust="spacingAndGlyphs">P. syringae_M KUIN-1</tspan></text>
<text x="328.4" y="450.60" font-size="7.8" fill="#177a3c" stroke="#177a3c" stroke-width="0.2" textLength="12.16" lengthAdjust="spacingAndGlyphs">146</text>
<text y="450.60" font-size="7.8" fill="#177a3c" stroke="#177a3c" stroke-width="0.2"><tspan x="349.00" textLength="36.27" lengthAdjust="spacingAndGlyphs" font-weight="bold" font-style="italic">P. syringae</tspan><tspan x="385.27" textLength="46.80" lengthAdjust="spacingAndGlyphs" font-weight="bold">  KCTC 12500T</tspan></text>
<text x="328.4" y="461.29" font-size="7.8" fill="#177a3c" stroke="#177a3c" stroke-width="0.2" textLength="12.16" lengthAdjust="spacingAndGlyphs">143</text>
<text y="461.29" font-size="7.8" fill="#177a3c" stroke="#177a3c" stroke-width="0.2"><tspan x="349.00" textLength="27.81" lengthAdjust="spacingAndGlyphs" font-weight="bold" font-style="italic">P. cerasi</tspan><tspan x="376.81" textLength="15.74" lengthAdjust="spacingAndGlyphs" font-weight="bold">  58T</tspan></text>
<text x="328.4" y="471.97" font-size="7.8" fill="#177a3c" stroke="#177a3c" stroke-width="0.2" textLength="12.16" lengthAdjust="spacingAndGlyphs">147</text>
<text y="471.97" font-size="7.8" fill="#177a3c" stroke="#177a3c" stroke-width="0.2"><tspan x="349.00" textLength="41.82" lengthAdjust="spacingAndGlyphs" font-weight="bold" font-style="italic">P. congelans</tspan><tspan x="390.82" textLength="45.62" lengthAdjust="spacingAndGlyphs" font-weight="bold">  DSM 14939T</tspan></text>
<text x="328.4" y="482.65" font-size="7.8" fill="#177a3c" stroke="#177a3c" stroke-width="0.2" textLength="12.16" lengthAdjust="spacingAndGlyphs">133</text>
<text y="482.65" font-size="7.8" fill="#177a3c" stroke="#177a3c" stroke-width="0.2"><tspan x="349.00" textLength="43.13" lengthAdjust="spacingAndGlyphs" font-weight="bold" font-style="italic">P. cannabina</tspan><tspan x="392.13" textLength="43.43" lengthAdjust="spacingAndGlyphs" font-weight="bold">  ICMP 2823T</tspan></text>
<text x="328.4" y="493.34" font-size="7.8" fill="#177a3c" stroke="#177a3c" stroke-width="0.2" textLength="12.16" lengthAdjust="spacingAndGlyphs">134</text>
<text y="493.34" font-size="7.8" fill="#177a3c" stroke="#177a3c" stroke-width="0.2"><tspan x="349.00" textLength="78.30" lengthAdjust="spacingAndGlyphs">Ps_E syringae_P 0788_9</tspan></text>
<text x="328.4" y="504.02" font-size="7.8" fill="#177a3c" stroke="#177a3c" stroke-width="0.2" textLength="12.16" lengthAdjust="spacingAndGlyphs">149</text>
<text y="504.02" font-size="7.8" fill="#177a3c" stroke="#177a3c" stroke-width="0.2"><tspan x="349.00" textLength="93.38" lengthAdjust="spacingAndGlyphs">Ps_E syringae_P ICMP 12471</tspan></text>
<text x="328.4" y="514.70" font-size="7.8" fill="#177a3c" stroke="#177a3c" stroke-width="0.2" textLength="12.16" lengthAdjust="spacingAndGlyphs">135</text>
<text y="514.70" font-size="7.8" fill="#177a3c" stroke="#177a3c" stroke-width="0.2"><tspan x="349.00" textLength="80.04" lengthAdjust="spacingAndGlyphs">Ps_E syringae_Q CC1583</tspan></text>
<text x="328.4" y="525.38" font-size="7.8" fill="#177a3c" stroke="#177a3c" stroke-width="0.2" textLength="12.16" lengthAdjust="spacingAndGlyphs">136</text>
<text y="525.38" font-size="7.8" fill="#177a3c" stroke="#177a3c" stroke-width="0.2"><tspan x="349.00" textLength="80.57" lengthAdjust="spacingAndGlyphs">Ps_E syringae_Q PD2766</tspan></text>
<text x="328.4" y="536.07" font-size="7.8" fill="#177a3c" stroke="#177a3c" stroke-width="0.2" textLength="12.16" lengthAdjust="spacingAndGlyphs">159</text>
<text y="536.07" font-size="7.8" fill="#177a3c" stroke="#177a3c" stroke-width="0.2"><tspan x="349.00" textLength="80.97" lengthAdjust="spacingAndGlyphs">Ps_E syringae_Q PA-2-9E</tspan></text>
<text x="328.4" y="546.75" font-size="7.8" fill="#177a3c" stroke="#177a3c" stroke-width="0.2" textLength="12.16" lengthAdjust="spacingAndGlyphs">137</text>
<text y="546.75" font-size="7.8" fill="#177a3c" stroke="#177a3c" stroke-width="0.2"><tspan x="349.00" textLength="78.34" lengthAdjust="spacingAndGlyphs">Ps_E syringae_F CC1557</tspan></text>
<text x="328.4" y="557.43" font-size="7.8" fill="#177a3c" stroke="#177a3c" stroke-width="0.2" textLength="12.16" lengthAdjust="spacingAndGlyphs">131</text>
<text y="557.43" font-size="7.8" fill="#177a3c" stroke="#177a3c" stroke-width="0.2"><tspan x="349.00" textLength="94.72" lengthAdjust="spacingAndGlyphs" font-weight="bold" font-style="italic">P. tremae  /P. coronafaciens</tspan><tspan x="443.72" textLength="43.43" lengthAdjust="spacingAndGlyphs" font-weight="bold">  ICMP 9151T</tspan></text>
<text x="328.4" y="568.12" font-size="7.8" fill="#177a3c" stroke="#177a3c" stroke-width="0.2" textLength="12.16" lengthAdjust="spacingAndGlyphs">153</text>
<text y="568.12" font-size="7.8" fill="#177a3c" stroke="#177a3c" stroke-width="0.2"><tspan x="349.00" textLength="94.13" lengthAdjust="spacingAndGlyphs" font-style="italic">P. tremae /P. coronafaciens</tspan><tspan x="443.13" textLength="15.71" lengthAdjust="spacingAndGlyphs">  1_6</tspan></text>
<text x="328.4" y="578.80" font-size="7.8" fill="#177a3c" stroke="#177a3c" stroke-width="0.2" textLength="12.16" lengthAdjust="spacingAndGlyphs">150</text>
<text y="578.80" font-size="7.8" fill="#177a3c" stroke="#177a3c" stroke-width="0.2"><tspan x="349.00" textLength="94.13" lengthAdjust="spacingAndGlyphs" font-style="italic">P. tremae /P. coronafaciens</tspan><tspan x="443.13" textLength="38.90" lengthAdjust="spacingAndGlyphs">  ICMP 8961</tspan></text>
<text x="328.4" y="589.48" font-size="7.8" fill="#177a3c" stroke="#177a3c" stroke-width="0.2" textLength="12.16" lengthAdjust="spacingAndGlyphs">132</text>
<text y="589.48" font-size="7.8" fill="#177a3c" stroke="#177a3c" stroke-width="0.2"><tspan x="349.00" textLength="59.28" lengthAdjust="spacingAndGlyphs" font-style="italic">Pseudomonas sp.</tspan><tspan x="408.28" textLength="42.91" lengthAdjust="spacingAndGlyphs">  PDD-32b-74</tspan></text>
<text x="328.4" y="600.17" font-size="7.8" fill="#ee8c3e" stroke="#ee8c3e" stroke-width="0.2" textLength="4.05" lengthAdjust="spacingAndGlyphs">9</text>
<text y="600.17" font-size="7.8" fill="#ee8c3e" stroke="#ee8c3e" stroke-width="0.2"><tspan x="349.00" textLength="59.28" lengthAdjust="spacingAndGlyphs" font-style="italic">Pseudomonas sp.</tspan><tspan x="408.28" textLength="19.39" lengthAdjust="spacingAndGlyphs">  v388</tspan></text>
<text x="328.4" y="610.85" font-size="7.8" fill="#ee8c3e" stroke="#ee8c3e" stroke-width="0.2" textLength="8.11" lengthAdjust="spacingAndGlyphs">10</text>
<text y="610.85" font-size="7.8" fill="#ee8c3e" stroke="#ee8c3e" stroke-width="0.2"><tspan x="349.00" textLength="59.28" lengthAdjust="spacingAndGlyphs" font-style="italic">Pseudomonas sp.</tspan><tspan x="408.28" textLength="51.34" lengthAdjust="spacingAndGlyphs">  10JD528PS106</tspan></text>
<text x="328.4" y="621.53" font-size="7.8" fill="#d8263a" stroke="#d8263a" stroke-width="0.2" textLength="8.11" lengthAdjust="spacingAndGlyphs">11</text>
<text y="621.53" font-size="7.8" fill="#d8263a" stroke="#d8263a" stroke-width="0.2"><tspan x="349.00" textLength="69.54" lengthAdjust="spacingAndGlyphs">P. syringae_A GR12-2</tspan></text>
<text x="328.4" y="632.21" font-size="7.8" fill="#d8263a" stroke="#d8263a" stroke-width="0.2" textLength="8.11" lengthAdjust="spacingAndGlyphs">12</text>
<text y="632.21" font-size="7.8" fill="#d8263a" stroke="#d8263a" stroke-width="0.2"><tspan x="349.00" textLength="82.68" lengthAdjust="spacingAndGlyphs">Ps_E sp000416235 CFII64</tspan></text>
<text x="328.4" y="642.90" font-size="7.8" fill="#d8263a" stroke="#d8263a" stroke-width="0.2" textLength="8.11" lengthAdjust="spacingAndGlyphs">20</text>
<text y="642.90" font-size="7.8" fill="#d8263a" stroke="#d8263a" stroke-width="0.2"><tspan x="349.00" textLength="87.28" lengthAdjust="spacingAndGlyphs">Ps_E sp000416235 CEB003</tspan></text>
<text x="328.4" y="653.58" font-size="7.8" fill="#d8263a" stroke="#d8263a" stroke-width="0.2" textLength="8.11" lengthAdjust="spacingAndGlyphs">13</text>
<text y="653.58" font-size="7.8" fill="#d8263a" stroke="#d8263a" stroke-width="0.2"><tspan x="349.00" textLength="85.47" lengthAdjust="spacingAndGlyphs">Ps_E syringae_J GAW0119</tspan></text>
<text x="328.4" y="664.26" font-size="7.8" fill="#d8263a" stroke="#d8263a" stroke-width="0.2" textLength="4.05" lengthAdjust="spacingAndGlyphs">3</text>
<text y="664.26" font-size="7.8" fill="#d8263a" stroke="#d8263a" stroke-width="0.2"><tspan x="349.00" textLength="37.70" lengthAdjust="spacingAndGlyphs" font-weight="bold" font-style="italic">P. caspiana</tspan><tspan x="386.69" textLength="31.85" lengthAdjust="spacingAndGlyphs" font-weight="bold">  FBF102T</tspan></text>
<text x="328.4" y="674.95" font-size="7.8" fill="#d8263a" stroke="#d8263a" stroke-width="0.2" textLength="4.05" lengthAdjust="spacingAndGlyphs">5</text>
<text y="674.95" font-size="7.8" fill="#d8263a" stroke="#d8263a" stroke-width="0.2"><tspan x="349.00" textLength="20.86" lengthAdjust="spacingAndGlyphs" font-style="italic">P. folii</tspan><tspan x="369.86" textLength="36.37" lengthAdjust="spacingAndGlyphs">  Irchel 3A5</tspan></text>
<text x="328.4" y="685.63" font-size="7.8" fill="#d8263a" stroke="#d8263a" stroke-width="0.2" textLength="4.05" lengthAdjust="spacingAndGlyphs">4</text>
<text y="685.63" font-size="7.8" fill="#d8263a" stroke="#d8263a" stroke-width="0.2"><tspan x="349.00" textLength="20.68" lengthAdjust="spacingAndGlyphs" font-weight="bold" font-style="italic">P. folii</tspan><tspan x="369.68" textLength="45.44" lengthAdjust="spacingAndGlyphs" font-weight="bold">  DOAB 1069T</tspan></text>
<text x="328.4" y="696.31" font-size="7.8" fill="#d8263a" stroke="#d8263a" stroke-width="0.2" textLength="4.05" lengthAdjust="spacingAndGlyphs">6</text>
<text y="696.31" font-size="7.8" fill="#d8263a" stroke="#d8263a" stroke-width="0.2"><tspan x="349.00" textLength="84.24" lengthAdjust="spacingAndGlyphs">Ps_E sp002699985 UB246</tspan></text>
<text x="328.4" y="707.00" font-size="7.8" fill="#d8263a" stroke="#d8263a" stroke-width="0.2" textLength="4.05" lengthAdjust="spacingAndGlyphs">7</text>
<text y="707.00" font-size="7.8" fill="#d8263a" stroke="#d8263a" stroke-width="0.2"><tspan x="349.00" textLength="55.56" lengthAdjust="spacingAndGlyphs" font-weight="bold" font-style="italic">P. quasicaspiana</tspan><tspan x="404.56" textLength="39.62" lengthAdjust="spacingAndGlyphs" font-weight="bold">  CDFA 553T</tspan></text>
<text x="328.4" y="717.68" font-size="7.8" fill="#d8263a" stroke="#d8263a" stroke-width="0.2" textLength="8.11" lengthAdjust="spacingAndGlyphs">19</text>
<text y="717.68" font-size="7.8" fill="#d8263a" stroke="#d8263a" stroke-width="0.2"><tspan x="349.00" textLength="56.58" lengthAdjust="spacingAndGlyphs" font-style="italic">P. quasicaspiana</tspan><tspan x="405.58" textLength="42.95" lengthAdjust="spacingAndGlyphs">  ICMP 23753</tspan></text>
<text x="328.4" y="728.36" font-size="7.8" fill="#d8263a" stroke="#d8263a" stroke-width="0.2" textLength="4.05" lengthAdjust="spacingAndGlyphs">8</text>
<text y="728.36" font-size="7.8" fill="#d8263a" stroke="#d8263a" stroke-width="0.2"><tspan x="349.00" textLength="93.82" lengthAdjust="spacingAndGlyphs">Ps_E sp002699985 ICMP 561</tspan></text>
<text x="328.4" y="739.04" font-size="7.8" fill="#d8263a" stroke="#d8263a" stroke-width="0.2" textLength="8.11" lengthAdjust="spacingAndGlyphs">17</text>
<text y="739.04" font-size="7.8" fill="#d8263a" stroke="#d8263a" stroke-width="0.2"><tspan x="349.00" textLength="94.06" lengthAdjust="spacingAndGlyphs">Ps_E sp002699985 CDFA 550</tspan></text>
<text x="328.4" y="749.73" font-size="7.8" fill="#d8263a" stroke="#d8263a" stroke-width="0.2" textLength="8.11" lengthAdjust="spacingAndGlyphs">18</text>
<text y="749.73" font-size="7.8" fill="#d8263a" stroke="#d8263a" stroke-width="0.2"><tspan x="349.00" textLength="92.25" lengthAdjust="spacingAndGlyphs">Ps_E sp002699985 CDFA611</tspan></text>
<text x="328.4" y="760.41" font-size="7.8" fill="#d8263a" stroke="#d8263a" stroke-width="0.2" textLength="4.05" lengthAdjust="spacingAndGlyphs">2</text>
<text y="760.41" font-size="7.8" fill="#d8263a" stroke="#d8263a" stroke-width="0.2"><tspan x="349.00" textLength="50.08" lengthAdjust="spacingAndGlyphs" font-weight="bold" font-style="italic">P. maioricensis</tspan><tspan x="399.08" textLength="19.53" lengthAdjust="spacingAndGlyphs" font-weight="bold">  S25T</tspan></text>
<text x="328.4" y="771.09" font-size="7.8" fill="#d8263a" stroke="#d8263a" stroke-width="0.2" textLength="4.05" lengthAdjust="spacingAndGlyphs">1</text>
<text y="771.09" font-size="7.8" fill="#d8263a" stroke="#d8263a" stroke-width="0.2"><tspan x="349.00" textLength="81.97" lengthAdjust="spacingAndGlyphs">Ps_E sp900602065 p8.G8</tspan></text>
<text x="328.4" y="781.78" font-size="7.8" fill="#e03cb8" stroke="#e03cb8" stroke-width="0.2" textLength="8.11" lengthAdjust="spacingAndGlyphs">14</text>
<text y="781.78" font-size="7.8" fill="#e03cb8" stroke="#e03cb8" stroke-width="0.2"><tspan x="349.00" textLength="92.50" lengthAdjust="spacingAndGlyphs">Ps_E sp000829415 StFLB209</tspan></text>
<text x="328.4" y="792.46" font-size="7.8" fill="#e03cb8" stroke="#e03cb8" stroke-width="0.2" textLength="8.11" lengthAdjust="spacingAndGlyphs">21</text>
<text y="792.46" font-size="7.8" fill="#e03cb8" stroke="#e03cb8" stroke-width="0.2"><tspan x="349.00" textLength="86.46" lengthAdjust="spacingAndGlyphs">Ps_E sp000829415 LJDD11</tspan></text>
<text x="328.4" y="803.14" font-size="7.8" fill="#e03cb8" stroke="#e03cb8" stroke-width="0.2" textLength="8.11" lengthAdjust="spacingAndGlyphs">23</text>
<text y="803.14" font-size="7.8" fill="#e03cb8" stroke="#e03cb8" stroke-width="0.2"><tspan x="349.00" textLength="95.50" lengthAdjust="spacingAndGlyphs">Ps_E sp000829415 21LCFQ02</tspan></text>
<text x="328.4" y="813.83" font-size="7.8" fill="#e03cb8" stroke="#e03cb8" stroke-width="0.2" textLength="8.11" lengthAdjust="spacingAndGlyphs">22</text>
<text y="813.83" font-size="7.8" fill="#e03cb8" stroke="#e03cb8" stroke-width="0.2"><tspan x="349.00" textLength="99.55" lengthAdjust="spacingAndGlyphs">Ps_E sp000829415 21LCFQ010</tspan></text>
<text x="328.4" y="824.51" font-size="7.8" fill="#e03cb8" stroke="#e03cb8" stroke-width="0.2" textLength="8.11" lengthAdjust="spacingAndGlyphs">15</text>
<text y="824.51" font-size="7.8" fill="#e03cb8" stroke="#e03cb8" stroke-width="0.2"><tspan x="349.00" textLength="27.17" lengthAdjust="spacingAndGlyphs" font-weight="bold" font-style="italic">P. ovata</tspan><tspan x="376.17" textLength="19.53" lengthAdjust="spacingAndGlyphs" font-weight="bold">  F51T</tspan></text>
<text x="328.4" y="835.19" font-size="7.8" fill="#e03cb8" stroke="#e03cb8" stroke-width="0.2" textLength="8.11" lengthAdjust="spacingAndGlyphs">16</text>
<text y="835.19" font-size="7.8" fill="#e03cb8" stroke="#e03cb8" stroke-width="0.2"><tspan x="349.00" textLength="27.66" lengthAdjust="spacingAndGlyphs" font-style="italic">P. ovata</tspan><tspan x="376.66" textLength="29.40" lengthAdjust="spacingAndGlyphs">  Leaf127</tspan></text>
<text y="845.88" font-size="7.8" fill="#111" stroke="#111" stroke-width="0.2"><tspan x="349.00" textLength="45.31" lengthAdjust="spacingAndGlyphs" font-weight="bold" font-style="italic">P. aeruginosa</tspan><tspan x="394.31" textLength="45.62" lengthAdjust="spacingAndGlyphs" font-weight="bold">  DSM 50071T</tspan></text>
</svg></body></html>
